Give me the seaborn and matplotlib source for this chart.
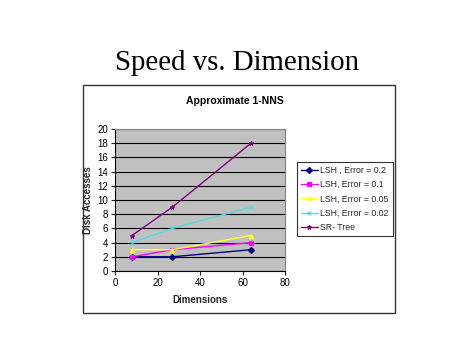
import matplotlib
matplotlib.use("Agg")
import matplotlib.pyplot as plt
import seaborn as sns
import pandas as pd
from matplotlib.patches import Rectangle

dimensions = [8, 27, 64]
lsh_02 = [2, 2, 3]
lsh_01 = [2, 3, 4]
lsh_005 = [3, 3, 5]
lsh_002 = [4, 6, 9]
sr_tree = [5, 9, 18]

labels = ["LSH , Error = 0.2", "LSH, Error = 0.1", "LSH, Error = 0.05",
          "LSH, Error = 0.02", "SR- Tree"]
colors = ["#000080", "#ff00ff", "#ffff33", "#4fdcdc", "#800080"]
markers = ["D", "s", "^", "x", "*"]

df = pd.DataFrame({
    "Dimensions": dimensions * 5,
    "Disk Accesses": lsh_02 + lsh_01 + lsh_005 + lsh_002 + sr_tree,
    "series": [l for l in labels for _ in dimensions],
})

sns.set_style("white")
plt.rcParams["font.family"] = ["Liberation Sans", "DejaVu Sans"]

W, H = 474, 355
fig = plt.figure(figsize=(W / 100, H / 100), dpi=100)

# slide title
fig.text(237 / W, 1 - 63 / H, "Speed vs. Dimension", ha="center", va="center",
         fontsize=20.8, family="Liberation Serif", color="black")

# chart border
fig.patches.append(Rectangle((83 / W, 1 - 313 / H), 312 / W, 228 / H,
                             transform=fig.transFigure, fill=False,
                             edgecolor="#333333", linewidth=1))
fig.text(235 / W, 1 - 101 / H, "Approximate 1-NNS", ha="center", va="center",
         fontsize=7.5, fontweight="bold", color="black")

ax = fig.add_axes([115 / W, 1 - 271 / H, 170 / W, 142 / H])
ax.set_facecolor("#c0c0c0")

for lab, col, mk in zip(labels, colors, markers):
    sub = df[df["series"] == lab]
    sns.lineplot(data=sub, x="Dimensions", y="Disk Accesses", ax=ax, color=col,
                 marker=mk, markersize=3.2, markeredgecolor=col,
                 linewidth=1, label=lab)

ax.set_xlim(0, 80)
ax.set_ylim(0, 20)
ax.set_xticks(range(0, 81, 20))
ax.set_yticks(range(0, 21, 2))
ax.yaxis.grid(True, color="black", linewidth=0.8)
ax.set_axisbelow(True)
for s in ["top", "right"]:
    ax.spines[s].set_color("#808080")
    ax.spines[s].set_linewidth(0.8)
for s in ["left", "bottom"]:
    ax.spines[s].set_color("black")
    ax.spines[s].set_linewidth(0.8)
ax.tick_params(axis="both", labelsize=7, length=3, direction="out",
               bottom=True, left=True, pad=2, labelcolor="black")
ax.set_xlabel("Dimensions", fontsize=7, fontweight="bold", labelpad=5)
ax.set_ylabel("Disk Accesses", fontsize=7, fontweight="bold", labelpad=3)

leg = ax.legend(loc="center left", bbox_to_anchor=(297 / W, 1 - 199 / H),
                bbox_transform=fig.transFigure, fontsize=6.3, frameon=True,
                fancybox=False, edgecolor="black", handlelength=1.9,
                handletextpad=0.3, borderpad=0.45, labelspacing=0.6,
                borderaxespad=0)
leg.get_frame().set_linewidth(0.8)

fig.savefig("out.png", dpi=100)
